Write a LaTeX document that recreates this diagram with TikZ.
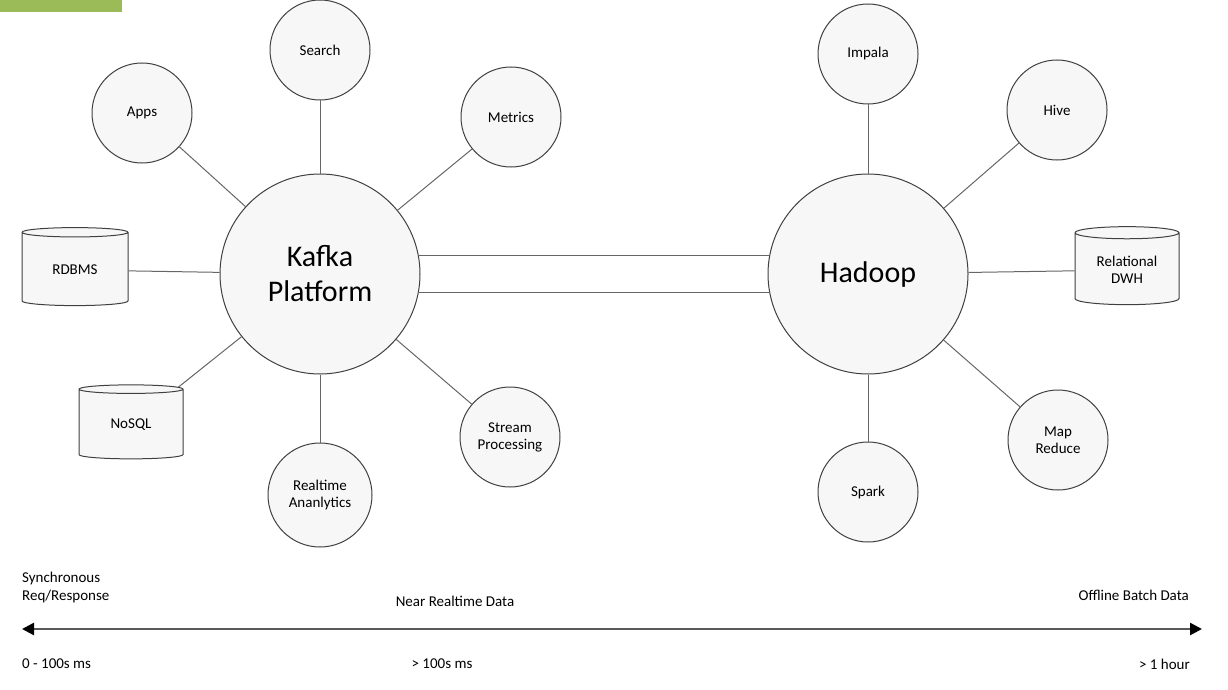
\documentclass[tikz,border=0pt]{standalone}
\usepackage{fontspec}
\setmainfont{Carlito}
\usetikzlibrary{shapes.geometric,arrows.meta}
\begin{document}
\begin{tikzpicture}[x=1pt,y=-1pt,
  sat/.style={circle,draw=black!75,line width=1pt,fill=black!3,inner sep=0pt,minimum size=100pt,font=\fontsize{15}{17}\selectfont,align=center},
  hub/.style={circle,draw=black!75,line width=1pt,fill=black!3,inner sep=0pt,minimum size=200pt,font=\fontsize{30}{35}\selectfont,align=center},
  db/.style={cylinder,shape border rotate=90,aspect=0.18,draw=black!75,line width=1pt,fill=black!3,minimum width=106pt,minimum height=78pt,font=\fontsize{15}{17}\selectfont,align=center},
  link/.style={draw=black!60,line width=1pt},
  lbl/.style={font=\fontsize{15}{18}\selectfont,inner sep=0pt}]
\useasboundingbox (0,0) rectangle (1228,690);
\fill[fill={rgb,255:red,155;green,187;blue,89}] (0,0) rectangle (122,12);
\node[hub] (kafka) at (320,274) {Kafka\\Platform};
\node[hub] (hadoop) at (868,274) {Hadoop};
\node[sat] (search) at (320,50) {Search};
\node[sat] (apps) at (142,113) {Apps};
\node[sat] (metrics) at (511,117) {Metrics};
\node[sat] (stream) at (510,437) {Stream\\Processing};
\node[sat,minimum size=104pt] (rta) at (320,495) {Realtime\\Ananlytics};
\node[db] (rdbms) at (75,270) {RDBMS};
\node[db,minimum width=104pt,minimum height=74pt] (nosql) at (131,425) {NoSQL};
\node[sat] (impala) at (868,54) {Impala};
\node[sat] (hive) at (1057,110) {Hive};
\node[db,minimum width=104pt] (dwh) at (1127,270) {Relational\\DWH};
\node[sat] (mapred) at (1058,440) {Map\\Reduce};
\node[sat] (spark) at (868,492) {Spark};
\foreach \n in {search,apps,metrics,stream,rta,rdbms,nosql}
  \draw[link] (kafka) -- (\n);
\foreach \n in {impala,hive,dwh,mapred,spark}
  \draw[link] (hadoop) -- (\n);
\draw[link] (kafka.center) ++(98,-19) coordinate (k1) (hadoop.center) ++(-98,-19) coordinate (h1);
\draw[link] (kafka.center) ++(98,18) coordinate (k2) (hadoop.center) ++(-98,18) coordinate (h2);
\draw[link] (k1) -- (h1);
\draw[link] (k2) -- (h2);
\coordinate (al) at (22,629);
\coordinate (ar) at (1202,629);
\draw[draw=black!65,line width=2.5pt,{Triangle[length=12pt,width=12pt,black]}-{Triangle[length=12pt,width=12pt,black]}] (al) -- (ar);
\node[lbl,anchor=west,align=left] (sync) at (22,587) {Synchronous\\Req/Response};
\node[lbl] (near) at (455,601) {Near Realtime Data};
\node[lbl,anchor=east] (off) at (1189,595) {Offline Batch Data};
\node[lbl,anchor=west] (t1) at (22,664) {0 - 100s ms};
\node[lbl] (t2) at (442,664) {> 100s ms};
\node[lbl,anchor=east] (t3) at (1190,664) {> 1 hour};
\end{tikzpicture}
\end{document}
